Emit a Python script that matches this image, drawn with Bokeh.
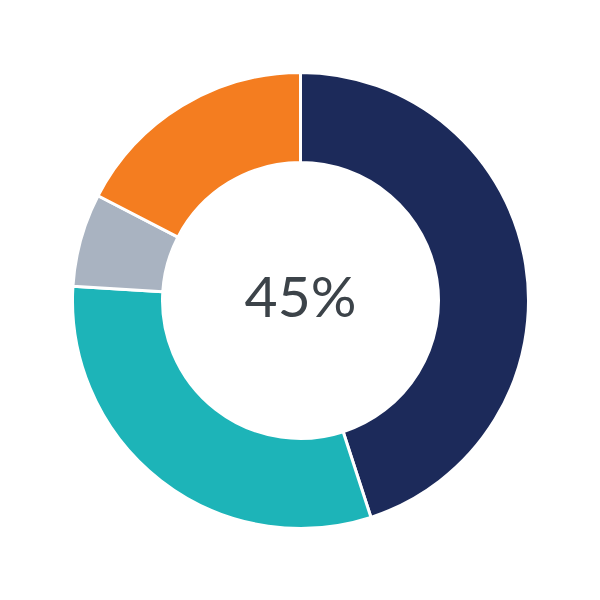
import math
from bokeh.plotting import figure
from bokeh.models import ColumnDataSource
from bokeh.core.properties import value
from bokeh.embed import file_html
from bokeh.resources import INLINE

categories = ["A", "B", "C", "D"]
values = [45, 31, 6.6, 17.4]
colors = ["#1c2a5a", "#1db4b8", "#a9b3c1", "#f47d20"]
center_label = "45%"

total = sum(values)
starts, ends = [], []
cum = 0.0
for v in values:
    a0 = math.pi / 2 - 2 * math.pi * cum / total
    cum += v
    a1 = math.pi / 2 - 2 * math.pi * cum / total
    starts.append(a1)
    ends.append(a0)

src = ColumnDataSource(dict(cat=categories, val=values, color=colors, start=starts, end=ends))

W = 600
p = figure(width=W, height=W, x_range=(-W / 2, W / 2), y_range=(-W / 2, W / 2),
           output_backend="svg", toolbar_location=None, min_border=0)
p.axis.visible = False
p.grid.visible = False
p.outline_line_color = None
p.background_fill_color = "white"

p.annular_wedge(x=0, y=0, inner_radius=138, outer_radius=228,
                start_angle="start", end_angle="end", direction="anticlock",
                fill_color="color", line_color="white", line_width=3, source=src)

p.text(x=[0], y=[0], text=[center_label], text_align="center", text_baseline="middle",
       y_offset=-6, text_font=value("Lato"), text_font_size="57px", text_color="#3c4349")

open("out.html", "w").write(file_html(p, INLINE))
